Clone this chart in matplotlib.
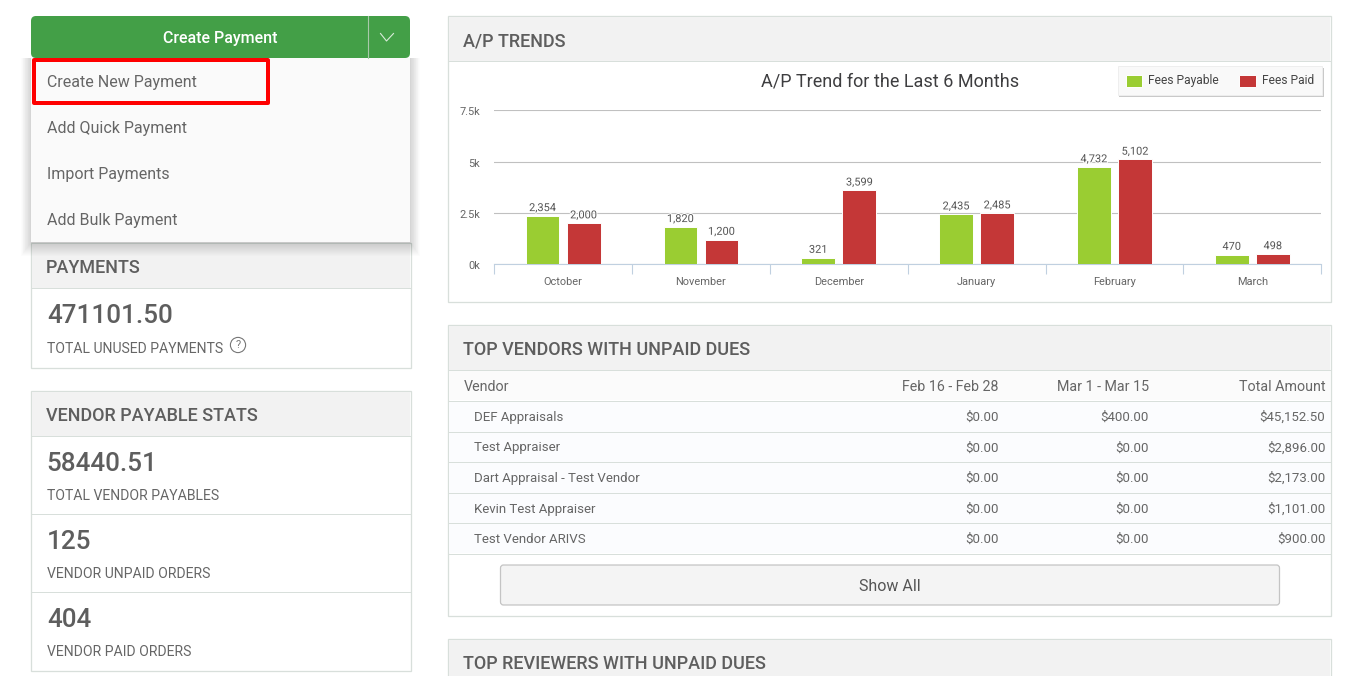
import matplotlib
matplotlib.use("Agg")
import numpy as np
import matplotlib.pyplot as plt
import matplotlib.patheffects as pe
from matplotlib.patches import Rectangle, FancyBboxPatch, Circle
from matplotlib.transforms import ScaledTranslation

plt.rcParams["font.family"] = ["Roboto", "DejaVu Sans"]

# chart data
months = ["October", "November", "December", "January", "February", "March"]
fees_payable = [2354, 1820, 321, 2435, 4732, 470]
fees_paid = [2000, 1200, 3599, 2485, 5102, 498]
y_ticks = [0, 2500, 5000, 7500]
y_tick_labels = ["0k", "2.5k", "5k", "7.5k"]

# table data
table_header = ["Vendor", "Feb 16 - Feb 28", "Mar 1 - Mar 15", "Total Amount"]
vendors = ["DEF Appraisals", "Test Appraiser", "Dart Appraisal - Test Vendor",
           "Kevin Test Appraiser", "Test Vendor ARIVS"]
feb_dues = ["$0.00", "$0.00", "$0.00", "$0.00", "$0.00"]
mar_dues = ["$400.00", "$0.00", "$0.00", "$0.00", "$0.00"]
total_dues = ["$45,152.50", "$2,896.00", "$2,173.00", "$1,101.00", "$900.00"]

menu_items = ["Create New Payment", "Add Quick Payment", "Import Payments", "Add Bulk Payment"]
vendor_stats = ["58440.51", "125", "404"]
vendor_stat_labels = ["TOTAL VENDOR PAYABLES", "VENDOR UNPAID ORDERS", "VENDOR PAID ORDERS"]

W, H = 1372, 676
BORDER = "#d8dfdb"
HEAD_BG = "#f2f2f2"
TEXT = "#666666"
HEAD = "#5e5e5e"
GREEN = "#9acd32"
RED = "#c43737"


def px(size):
    # css px to points at dpi 100
    return size * 0.72


fig = plt.figure(figsize=(W / 100, H / 100), dpi=100, facecolor="white")

ui = fig.add_axes([0, 0, 1, 1])
ui.set_xlim(0, W)
ui.set_ylim(H, 0)
ui.axis("off")


def rect(x0, y0, x1, y1, fc="none", ec="none", lw=1.0, z=1, **kw):
    ui.add_patch(Rectangle((x0, y0), x1 - x0, y1 - y0, facecolor=fc, edgecolor=ec,
                           linewidth=lw * 0.72, zorder=z, **kw))


def hline(x0, x1, y, color=BORDER, z=2):
    ui.plot([x0, x1], [y, y], color=color, lw=0.72, zorder=z, solid_capstyle="butt")


def label(x, y, s, size=14, color=TEXT, ha="left", weight="normal", z=3):
    ui.text(x, y + 1, s, fontsize=px(size), color=color, ha=ha, va="center", fontweight=weight, zorder=z)


def panel(x0, y0, x1, y1, head_bottom, title):
    rect(x0, y0, x1, y1, fc="white", ec=BORDER, lw=1.3, z=1)
    rect(x0 + 1, y0 + 1, x1 - 1, head_bottom, fc=HEAD_BG, z=1.5)
    hline(x0, x1, head_bottom)
    label(x0 + 15, (y0 + head_bottom) / 2 + 2, title, size=18, color=HEAD, weight="medium")


# left column
panel(31, 242.5, 411, 367.5, 287.5, "PAYMENTS")
label(46.8, 315, "471101.50", size=26, color=HEAD, weight="medium")
label(46.8, 348, "TOTAL UNUSED PAYMENTS", size=14)
ui.add_patch(Circle((238, 345), 7.6, facecolor="white", edgecolor="#777777", linewidth=0.8, zorder=3))
label(238, 344, "?", size=11, color="#777777", ha="center")

panel(31, 390.5, 411, 670.5, 435.5, "VENDOR PAYABLE STATS")
for i, (val, name) in enumerate(zip(vendor_stats, vendor_stat_labels)):
    label(46.8, 463 + 78 * i, val, size=26, color=HEAD, weight="medium")
    label(46.8, 495 + 78 * i, name, size=14)
    if i < 2:
        hline(31, 411, 513.5 + 78 * i)

# dropdown shadow
for g in range(14, 0, -1):
    rect(31 - g * 0.7, 58, 410 + g * 0.7, 242 + g, fc="black", alpha=0.012, z=4)
rect(31, 58, 410, 242, fc="#fafafa", z=5)
hline(31, 410, 242, color="#c8c8c8", z=5.5)
for i, item in enumerate(menu_items):
    label(46.8, 81 + 46 * i, item, size=16, z=6)
rect(34, 60, 268, 102.5, ec="#fe0000", lw=4, z=6, joinstyle="round")

# create payment button
ui.add_patch(FancyBboxPatch((31, 16), 379, 42, boxstyle="round,pad=0,rounding_size=5",
                            facecolor="#439f47", edgecolor="none", zorder=6))
ui.plot([368, 368], [16, 58], color="#a9c9aa", lw=0.8, zorder=7)
ui.plot([380.5, 386.5, 393.5], [33.5, 41, 33.5], color="#d9ecd9", lw=0.8, zorder=7)
label(220, 37, "Create Payment", size=16, color="white", ha="center", weight="medium", z=7)

# right column panels
panel(448, 15.5, 1331, 301.5, 60.5, "A/P TRENDS")
panel(448, 324.5, 1331, 615.5, 369.5, "TOP VENDORS WITH UNPAID DUES")
panel(448, 638.5, 1331, 690, 683.5, "TOP REVIEWERS WITH UNPAID DUES")

# vendors table
row_lines = [400.5, 431.5, 461.5, 492.5, 522.5, 553.5]
rect(449, 370, 1330, 400, fc="#fbfbfb", z=1.5)
rect(449, 401, 1330, 553, fc="#fbfcfe", z=1.5)
for y in row_lines:
    hline(448, 1331, y)
label(464, 386, table_header[0], size=14.2)
label(999, 386, table_header[1], size=14.2, ha="right")
label(1149, 386, table_header[2], size=14.2, ha="right")
label(1325.5, 386, table_header[3], size=14.2, ha="right")
for i, name in enumerate(vendors):
    y = (row_lines[i] + row_lines[i + 1]) / 2 + 0.5
    label(474, y, name, size=13.2)
    label(999, y, feb_dues[i], size=13.2, ha="right")
    label(1149, y, mar_dues[i], size=13.2, ha="right")
    label(1325.5, y, total_dues[i], size=13.2, ha="right")

ui.add_patch(FancyBboxPatch((500.5, 565), 779, 40, boxstyle="round,pad=0,rounding_size=3",
                            facecolor="#f4f4f4", edgecolor="#c4c4c4", linewidth=0.9, zorder=2))
label(890, 585.5, "Show All", size=16, color="#555555", ha="center")

# chart, placed by pixel box
PL, PR, PT, PB = 494.2, 1321.2, 110.2, 264.2
ax = fig.add_axes([PL / W, 1 - PB / H, (PR - PL) / W, (PB - PT) / H])
ax.patch.set_alpha(0)
x = np.arange(len(months))
bar_w = 0.245
off = 0.149
b1 = ax.bar(x - off, fees_payable, bar_w, color=GREEN, edgecolor="white", linewidth=0.7,
            label="Fees Payable", zorder=3)
b2 = ax.bar(x + off, fees_paid, bar_w, color=RED, edgecolor="white", linewidth=0.7,
            label="Fees Paid", zorder=3)
for bars in (b1, b2):
    labels = ax.bar_label(bars, fmt="{:,.0f}", padding=2, fontsize=px(11), color="#555555", zorder=4)
    for t in labels:
        t.set_path_effects([pe.withStroke(linewidth=1.5, foreground="white")])

ax.set_xlim(-0.5, len(months) - 0.5)
ax.set_ylim(0, 7500)
ax.set_yticks(y_ticks, y_tick_labels)
ax.set_xticks(x, months)
ax.set_xticks(np.arange(len(months) + 1) - 0.5, minor=True)
ax.grid(axis="y", color="#c0c0c0", lw=0.8, zorder=1)
ax.set_axisbelow(True)
for s in ["top", "left", "right"]:
    ax.spines[s].set_visible(False)
ax.spines["bottom"].set_color("#c0d0e0")
ax.spines["bottom"].set_linewidth(0.8)
ax.tick_params(axis="y", length=0, pad=10, labelsize=px(11), labelcolor=TEXT)
ax.tick_params(axis="x", which="major", length=0, pad=9, labelsize=px(11), labelcolor=TEXT)
ax.tick_params(axis="x", which="minor", length=7, width=0.8, color="#c0d0e0")
# y labels sit a little under their gridlines
nudge = ScaledTranslation(0, -2 / 100, fig.dpi_scale_trans)
for t in ax.get_yticklabels():
    t.set_verticalalignment("center")
    t.set_transform(t.get_transform() + nudge)

ui.text(890, 81, "A/P Trend for the Last 6 Months", fontsize=px(18), color="#3e3e40",
        ha="center", va="center", zorder=3)

# legend box with hard shadow
rect(1119, 68, 1324, 97, fc="#c9c9c9", z=2)
leg = ax.legend(handles=[b1, b2], ncol=2, loc="upper right",
                bbox_to_anchor=(1322 / W, 1 - 66 / H), bbox_transform=fig.transFigure,
                frameon=True, fancybox=False, framealpha=1, facecolor="#f9f9f9", edgecolor="#eeeeee",
                fontsize=px(12), labelcolor="#444444", borderaxespad=0, borderpad=0.68,
                handlelength=1.38, handleheight=1.0, handletextpad=0.5, columnspacing=1.67)
leg.get_frame().set_linewidth(0.7)
leg.set_zorder(10)
for h in leg.legend_handles:
    h.set_height(px(12))
    h.set_y(-px(2.5))

fig.savefig("out.png", dpi=100)
